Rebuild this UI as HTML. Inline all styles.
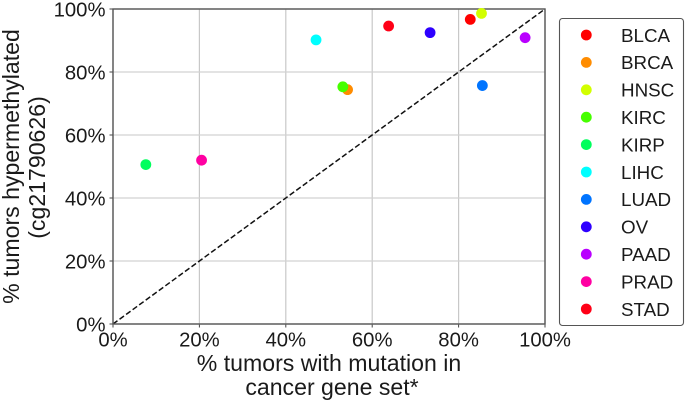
<!DOCTYPE html>
<html>
<head>
<meta charset="utf-8">
<style>
html,body{margin:0;padding:0;background:#fff;width:685px;height:402px;overflow:hidden}
svg{display:block}
text{font-family:"Liberation Sans",Arial,sans-serif;fill:#1a1a1a}
</style>
</head>
<body>
<svg id="chart" width="685" height="402" viewBox="0 0 685 402" xmlns="http://www.w3.org/2000/svg"></svg>
<script>
const categories = ["BLCA","BRCA","HNSC","KIRC","KIRP","LIHC","LUAD","OV","PAAD","PRAD","STAD"];
const mutationPct = [82.7,54.3,85.3,53.2,7.6,47.0,85.5,73.4,95.4,20.5,63.8];
const methylationPct = [96.7,74.4,98.6,75.3,50.6,90.2,75.7,92.5,90.9,52.0,94.6];
const seriesColors = ["#ff0000","#ff8c00","#d2ff00","#46ff00","#00ff5d","#00ffff","#0074ff","#2e00ff","#b900ff","#ff00a2","#ff0017"];
const xTickValues = [0,20,40,60,80,100];
const yTickValues = [0,20,40,60,80,100];

const svg = document.getElementById('chart');
const NS = 'http://www.w3.org/2000/svg';
const plot = {left:113, right:545, top:9, bottom:324};
const xScale = v => plot.left + (v/100)*(plot.right-plot.left);
const yScale = v => plot.bottom - (v/100)*(plot.bottom-plot.top);

function make(tag, attrs, parent){
  const el = document.createElementNS(NS, tag);
  for (const k in attrs) el.setAttribute(k, attrs[k]);
  (parent||svg).appendChild(el);
  return el;
}

xTickValues.forEach(t => {
  const g = make('line',{x1:xScale(t),x2:xScale(t),y1:plot.top,y2:plot.bottom,stroke:'#c8c8c8','stroke-width':1.2});
  
  
  const tick = make('line',{x1:xScale(t),x2:xScale(t),y1:plot.bottom,y2:plot.bottom+3.5,stroke:'#444','stroke-width':1});
  
  
  const lab = make('text',{x:xScale(t),y:346.5,'text-anchor':'middle','font-size':20.3});
  lab.textContent = t + '%';
  
  
});
yTickValues.forEach(t => {
  const g = make('line',{x1:plot.left,x2:plot.right,y1:yScale(t),y2:yScale(t),stroke:'#d2d2d2','stroke-width':1.2});
  
  
  const tick = make('line',{x1:plot.left-3.5,x2:plot.left,y1:yScale(t),y2:yScale(t),stroke:'#444','stroke-width':1});
  
  
  const lab = make('text',{x:105.5,y:yScale(t)+7.5,'text-anchor':'end','font-size':20.3});
  lab.textContent = t + '%';
  
  
});

const diag = make('line',{x1:xScale(0),y1:yScale(0),x2:xScale(100),y2:yScale(100),stroke:'#111','stroke-width':1.5,'stroke-dasharray':'5.5 2.6'});



const frame = make('rect',{x:plot.left,y:plot.top,width:plot.right-plot.left,height:plot.bottom-plot.top,fill:'none',stroke:'#555','stroke-width':1.4});



categories.forEach((c,i) => {
  const p = make('circle',{cx:xScale(mutationPct[i]),cy:yScale(methylationPct[i]),r:5.4,fill:seriesColors[i]});
  
  
});

const legendBox = make('rect',{x:559.5,y:18.5,width:124,height:307,rx:3,ry:3,fill:'#fff',stroke:'#555','stroke-width':1.1});


categories.forEach((c,i) => {
  const ly = 35 + i*27.4;
  const m = make('circle',{cx:586.3,cy:ly,r:5.4,fill:seriesColors[i]});
  
  
  const t = make('text',{x:621,y:ly+6.8,'font-size':18.8});
  t.textContent = c;
  
  
});

const xTitle1 = make('text',{x:329,y:371,'text-anchor':'middle','font-size':23.1});
xTitle1.textContent = '% tumors with mutation in';


const xTitle2 = make('text',{x:332,y:395,'text-anchor':'middle','font-size':23.1});
xTitle2.textContent = 'cancer gene set*';


const yTitle1 = make('text',{transform:'translate(19,166.5) rotate(-90)','text-anchor':'middle','font-size':23.1});
yTitle1.textContent = '% tumors hypermethylated';


const yTitle2 = make('text',{transform:'translate(45,167.5) rotate(-90)','text-anchor':'middle','font-size':23.1});
yTitle2.textContent = '(cg21790626)';


</script>
</body>
</html>
